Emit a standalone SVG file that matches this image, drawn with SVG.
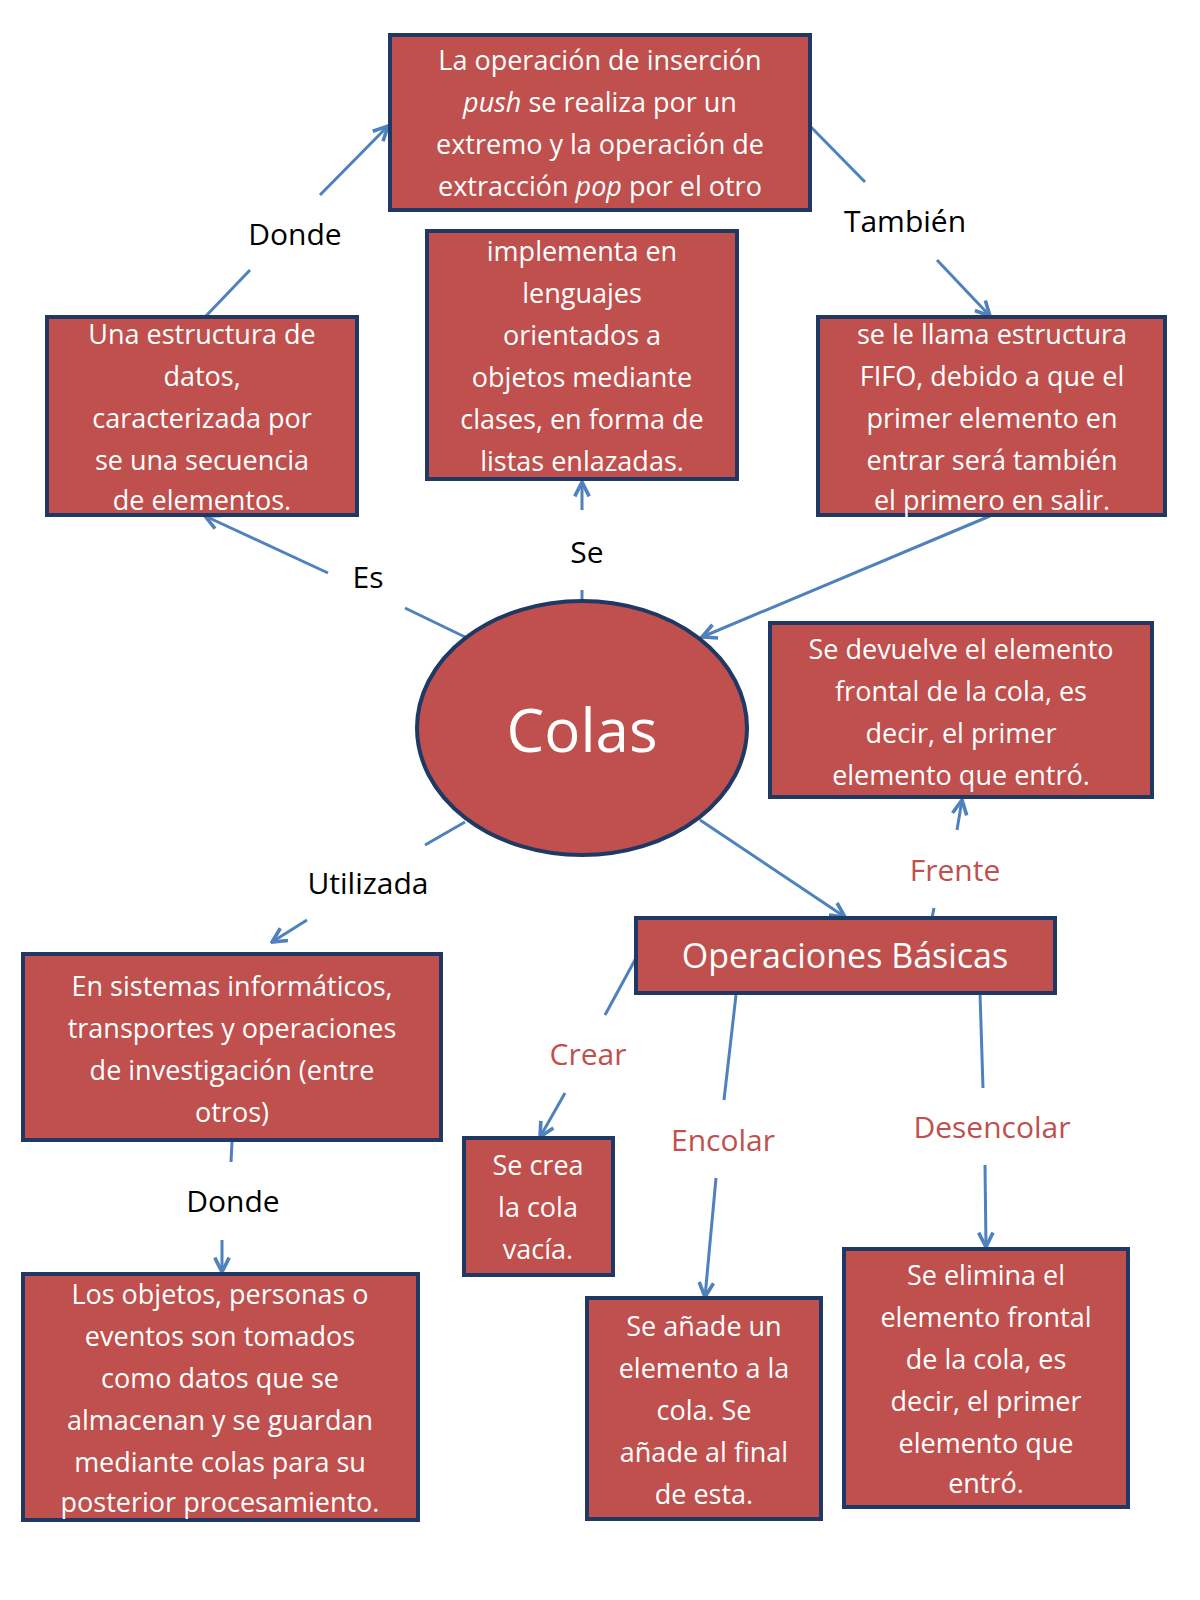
<svg xmlns="http://www.w3.org/2000/svg" width="1200" height="1600" viewBox="0 0 1200 1600">
<style>
.b{fill:#c0504d;stroke:#1f3864;stroke-width:4}
.t{font-family:"Open Sans","Liberation Sans",sans-serif;font-size:27px;fill:#fff;text-anchor:middle}
.l{font-family:"Open Sans","Liberation Sans",sans-serif;font-size:30px;fill:#000;text-anchor:middle}
.r{fill:#c0504d}
.c line{stroke:#4f81bd;stroke-width:3}
</style>
<defs><marker id="a" viewBox="0 0 10 10" refX="9" refY="5" markerWidth="6" markerHeight="6" orient="auto"><path d="M1,1 L9,5 L1,9" fill="none" stroke="#4f81bd" stroke-width="2"/></marker></defs>
<rect width="1200" height="1600" fill="#fff"/>
<g class="c">
<line x1="205" y1="317" x2="250" y2="270"/><line x1="320" y1="195" x2="388" y2="126" marker-end="url(#a)"/>
<line x1="810" y1="126" x2="865" y2="182"/><line x1="937" y1="260" x2="990" y2="316" marker-end="url(#a)"/>
<line x1="465" y1="637" x2="405" y2="608"/><line x1="328" y1="573" x2="205" y2="516" marker-end="url(#a)"/>
<line x1="582" y1="600" x2="582" y2="590"/><line x1="582" y1="510" x2="582" y2="482" marker-end="url(#a)"/>
<line x1="990" y1="516" x2="702" y2="637" marker-end="url(#a)"/>
<line x1="465" y1="822" x2="425" y2="845"/><line x1="307" y1="920" x2="272" y2="942" marker-end="url(#a)"/>
<line x1="700" y1="820" x2="845" y2="917" marker-end="url(#a)"/>
<line x1="932" y1="918" x2="934" y2="908"/><line x1="957" y1="830" x2="962" y2="800" marker-end="url(#a)"/>
<line x1="636" y1="958" x2="605" y2="1015"/><line x1="565" y1="1093" x2="540" y2="1137" marker-end="url(#a)"/>
<line x1="736" y1="995" x2="724" y2="1100"/><line x1="716" y1="1178" x2="705" y2="1297" marker-end="url(#a)"/>
<line x1="980" y1="993" x2="983" y2="1088"/><line x1="985" y1="1165" x2="986" y2="1247" marker-end="url(#a)"/>
<line x1="232" y1="1142" x2="231" y2="1162"/><line x1="222" y1="1240" x2="222" y2="1272" marker-end="url(#a)"/>
</g>
<g id="top"><rect class="b" x="390" y="35" width="420" height="175"/><text class="t"><tspan x="600" y="70">La operación de inserción</tspan><tspan x="600" y="112"><tspan font-style="italic">push</tspan> se realiza por un</tspan><tspan x="600" y="154">extremo y la operación de</tspan><tspan x="600" y="196">extracción <tspan font-style="italic">pop</tspan> por el otro</tspan></text></g>
<g id="es"><rect class="b" x="47" y="317" width="310" height="198"/><text class="t"><tspan x="202" y="344">Una estructura de</tspan><tspan x="202" y="386">datos,</tspan><tspan x="202" y="428">caracterizada por</tspan><tspan x="202" y="470">se una secuencia</tspan><tspan x="202" y="510">de elementos.</tspan></text></g>
<g id="se"><rect class="b" x="427" y="231" width="310" height="248"/><text class="t"><tspan x="582" y="261">implementa en</tspan><tspan x="582" y="303">lenguajes</tspan><tspan x="582" y="345">orientados a</tspan><tspan x="582" y="387">objetos mediante</tspan><tspan x="582" y="429">clases, en forma de</tspan><tspan x="582" y="471">listas enlazadas.</tspan></text></g>
<g id="fifo"><rect class="b" x="818" y="317" width="347" height="198"/><text class="t"><tspan x="992" y="344">se le llama estructura</tspan><tspan x="992" y="386">FIFO, debido a que el</tspan><tspan x="992" y="428">primer elemento en</tspan><tspan x="992" y="470">entrar será también</tspan><tspan x="992" y="510">el primero en salir.</tspan></text></g>
<g id="colas"><ellipse cx="582" cy="728" rx="165" ry="127" class="b"/><text class="t" x="582" y="752" style="font-size:60px">Colas</text></g>
<g id="frente"><rect class="b" x="770" y="623" width="382" height="174"/><text class="t"><tspan x="961" y="659">Se devuelve el elemento</tspan><tspan x="961" y="701">frontal de la cola, es</tspan><tspan x="961" y="743">decir, el primer</tspan><tspan x="961" y="785">elemento que entró.</tspan></text></g>
<g id="ops"><rect class="b" x="636" y="918" width="419" height="75"/><text class="t" x="845" y="968" style="font-size:34px">Operaciones Básicas</text></g>
<g id="util"><rect class="b" x="23" y="954" width="418" height="186"/><text class="t"><tspan x="232" y="996">En sistemas informáticos,</tspan><tspan x="232" y="1038">transportes y operaciones</tspan><tspan x="232" y="1080">de investigación (entre</tspan><tspan x="232" y="1122">otros)</tspan></text></g>
<g id="crear"><rect class="b" x="464" y="1138" width="149" height="137"/><text class="t"><tspan x="538" y="1175">Se crea</tspan><tspan x="538" y="1217">la cola</tspan><tspan x="538" y="1259">vacía.</tspan></text></g>
<g id="encolar"><rect class="b" x="587" y="1298" width="234" height="221"/><text class="t"><tspan x="704" y="1336">Se añade un</tspan><tspan x="704" y="1378">elemento a la</tspan><tspan x="704" y="1420">cola. Se</tspan><tspan x="704" y="1462">añade al final</tspan><tspan x="704" y="1504">de esta.</tspan></text></g>
<g id="desencolar"><rect class="b" x="844" y="1249" width="284" height="258"/><text class="t"><tspan x="986" y="1285">Se elimina el</tspan><tspan x="986" y="1327">elemento frontal</tspan><tspan x="986" y="1369">de la cola, es</tspan><tspan x="986" y="1411">decir, el primer</tspan><tspan x="986" y="1453">elemento que</tspan><tspan x="986" y="1493">entró.</tspan></text></g>
<g id="donde2"><rect class="b" x="23" y="1274" width="395" height="246"/><text class="t"><tspan x="220" y="1304">Los objetos, personas o</tspan><tspan x="220" y="1346">eventos son tomados</tspan><tspan x="220" y="1388">como datos que se</tspan><tspan x="220" y="1430">almacenan y se guardan</tspan><tspan x="220" y="1472">mediante colas para su</tspan><tspan x="220" y="1512">posterior procesamiento.</tspan></text></g>
<g id="labels">
<text class="l" x="295" y="245">Donde</text><text class="l" x="905" y="232">También</text>
<text class="l" x="368" y="588">Es</text><text class="l" x="587" y="563">Se</text>
<text class="l" x="368" y="894">Utilizada</text><text class="l" x="233" y="1212">Donde</text>
<text class="l r" x="955" y="881">Frente</text><text class="l r" x="588" y="1065">Crear</text>
<text class="l r" x="723" y="1151">Encolar</text><text class="l r" x="992" y="1138">Desencolar</text>
</g>
</svg>
